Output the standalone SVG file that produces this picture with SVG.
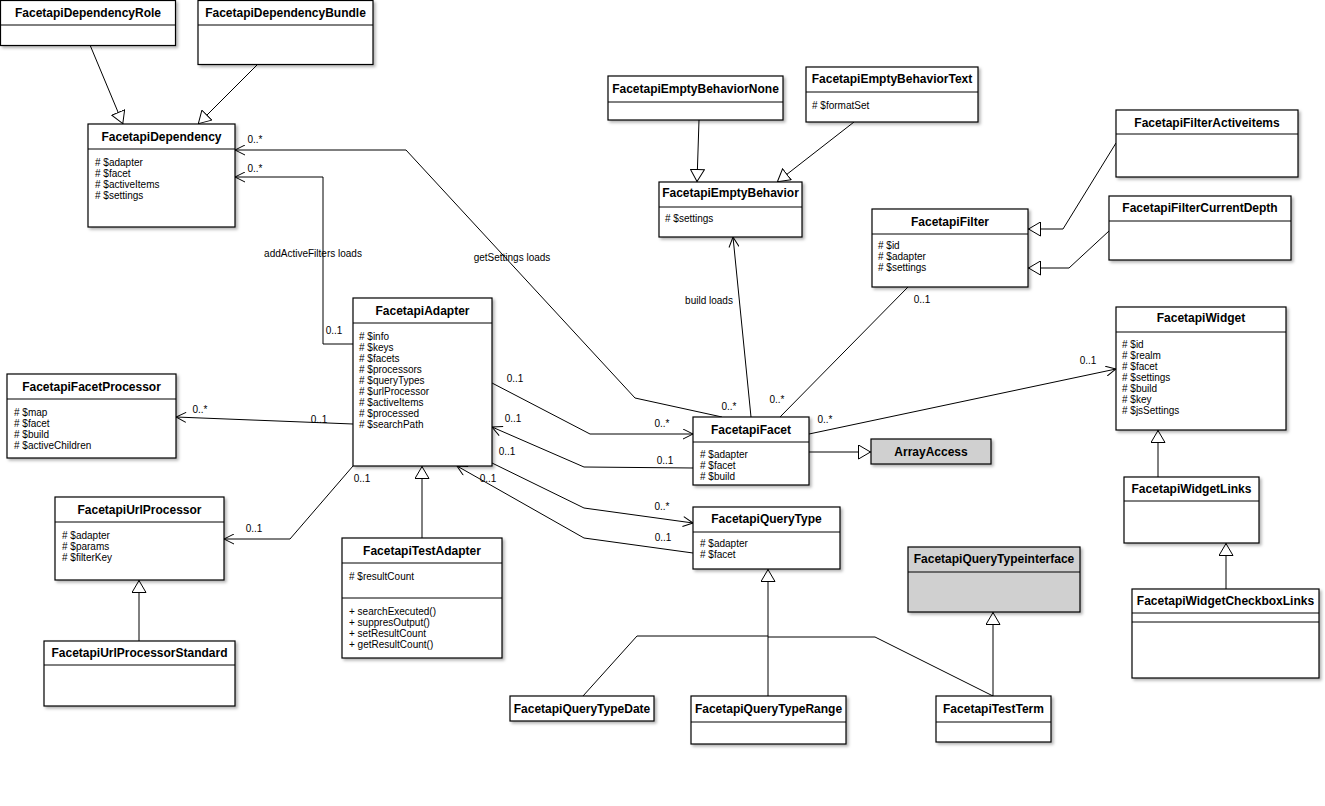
<svg xmlns="http://www.w3.org/2000/svg" width="1325" height="806" viewBox="0 0 1325 806">
<style>
.box{fill:#fff;stroke:#000;stroke-width:1.2;filter:url(#sh)}
.gray{fill:#d0d0d0}
.sep{stroke:#000;stroke-width:1}
.title{font-family:"Liberation Sans",Arial,sans-serif;font-size:12px;font-weight:bold;text-anchor:middle;fill:#000}
.attr{font-family:"Liberation Sans",Arial,sans-serif;font-size:10px;fill:#000}
.lbl{font-family:"Liberation Sans",Arial,sans-serif;font-size:10px;fill:#000;text-anchor:middle}
.conn{fill:none;stroke:#000;stroke-width:1}
.gen{marker-end:url(#tri)}
.asc{marker-end:url(#arr)}
</style>
<defs>
<filter id="sh" x="-10%" y="-10%" width="130%" height="140%">
<feDropShadow dx="2" dy="2" stdDeviation="1.5" flood-color="#000" flood-opacity="0.3"/>
</filter>
<marker id="tri" viewBox="0 0 13 15" refX="13" refY="7.5" markerWidth="13" markerHeight="15" markerUnits="userSpaceOnUse" orient="auto">
<path d="M0.5,0.5 L12.5,7.5 L0.5,14.5 Z" fill="#fff" stroke="#000" stroke-width="1"/>
</marker>
<marker id="arr" viewBox="0 0 11 11" refX="10.5" refY="5.5" markerWidth="11" markerHeight="11" markerUnits="userSpaceOnUse" orient="auto">
<path d="M0.5,0.5 L10.5,5.5 L0.5,10.5" fill="none" stroke="#000" stroke-width="1"/>
</marker>
</defs>

<g id="connectors">
<path class="conn gen" d="M90,45 L123,124"/>
<path class="conn gen" d="M258,64 L198,124"/>
<path class="conn asc" d="M722,417 L635,398 L406,150 L235,150"/>
<path class="conn asc" d="M353,344 L323,344 L323,177 L235,177"/>
<path class="conn asc" d="M353,424 L176,417"/>
<path class="conn asc" d="M353,466 L290,539 L224,539"/>
<path class="conn gen" d="M422,538 L422,466"/>
<path class="conn gen" d="M139,641 L139,580"/>
<path class="conn asc" d="M492,383 L590,434 L693,434"/>
<path class="conn asc" d="M693,468 L584,467 L492,427"/>
<path class="conn asc" d="M492,463 L584,508 L693,523"/>
<path class="conn asc" d="M693,553 L584,538 L457,466"/>
<path class="conn gen" d="M809,452 L871,452"/>
<path class="conn asc" d="M751,417 L733,237"/>
<path class="conn" d="M780,417 L908,287"/>
<path class="conn asc" d="M809,434 L1116,369"/>
<path class="conn gen" d="M699,120 L697,182"/>
<path class="conn gen" d="M854,122 L777,182"/>
<path class="conn gen" d="M1116,143 L1063,229 L1028,229"/>
<path class="conn gen" d="M1109,231 L1069,268 L1028,268"/>
<path class="conn gen" d="M1158,477 L1158,430"/>
<path class="conn gen" d="M1226,589 L1226,543"/>
<path class="conn gen" d="M768,696 L768,569"/>
<path class="conn" d="M583,696 L637,636 L768,636"/>
<path class="conn" d="M993,696 L875,637 L768,637"/>
<path class="conn gen" d="M993,696 L993,612"/>
</g>

<g id="labels">
<text class="lbl" x="255" y="142.5">0..*</text>
<text class="lbl" x="255" y="171.5">0..*</text>
<text class="lbl" x="313" y="256.5">addActiveFilters loads</text>
<text class="lbl" x="334" y="333.5">0..1</text>
<text class="lbl" x="512" y="260.5">getSettings loads</text>
<text class="lbl" x="729" y="409.5">0..*</text>
<text class="lbl" x="709" y="303.5">build loads</text>
<text class="lbl" x="777" y="402.5">0..*</text>
<text class="lbl" x="922" y="302.5">0..1</text>
<text class="lbl" x="825" y="422.5">0..*</text>
<text class="lbl" x="1088" y="363.5">0..1</text>
<text class="lbl" x="515" y="381.5">0..1</text>
<text class="lbl" x="662" y="426.5">0..*</text>
<text class="lbl" x="513" y="421.5">0..1</text>
<text class="lbl" x="665" y="463.5">0..1</text>
<text class="lbl" x="507" y="454.5">0..1</text>
<text class="lbl" x="488" y="481.5">0..1</text>
<text class="lbl" x="662" y="509.5">0..*</text>
<text class="lbl" x="663" y="540.5">0..1</text>
<text class="lbl" x="200" y="412.5">0..*</text>
<text class="lbl" x="319" y="422.5">0..1</text>
<text class="lbl" x="362" y="481.5">0..1</text>
<text class="lbl" x="254" y="531.5">0..1</text>
</g>

<g id="FacetapiDependencyRole">
<rect class="box" x="0.5" y="0.5" width="175" height="45"/>
<line class="sep" x1="0.5" y1="25" x2="175.5" y2="25"/>
<text class="title" x="88" y="17">FacetapiDependencyRole</text>
</g>
<g id="FacetapiDependencyBundle">
<rect class="box" x="198" y="0.5" width="175" height="64"/>
<line class="sep" x1="198" y1="25" x2="373" y2="25"/>
<text class="title" x="285.5" y="17">FacetapiDependencyBundle</text>
</g>
<g id="FacetapiDependency">
<rect class="box" x="88" y="124" width="147" height="103"/>
<line class="sep" x1="88" y1="149" x2="235" y2="149"/>
<text class="title" x="161.5" y="141">FacetapiDependency</text>
<text class="attr" x="95" y="165.5"># $adapter</text>
<text class="attr" x="95" y="176.5"># $facet</text>
<text class="attr" x="95" y="187.5"># $activeItems</text>
<text class="attr" x="95" y="198.5"># $settings</text>
</g>
<g id="FacetapiAdapter">
<rect class="box" x="353" y="298" width="139" height="168"/>
<line class="sep" x1="353" y1="323" x2="492" y2="323"/>
<text class="title" x="422.5" y="315">FacetapiAdapter</text>
<text class="attr" x="359" y="339.5"># $info</text>
<text class="attr" x="359" y="350.5"># $keys</text>
<text class="attr" x="359" y="361.5"># $facets</text>
<text class="attr" x="359" y="372.5"># $processors</text>
<text class="attr" x="359" y="383.5"># $queryTypes</text>
<text class="attr" x="359" y="394.5"># $urlProcessor</text>
<text class="attr" x="359" y="405.5"># $activeItems</text>
<text class="attr" x="359" y="416.5"># $processed</text>
<text class="attr" x="359" y="427.5"># $searchPath</text>
</g>
<g id="FacetapiFacetProcessor">
<rect class="box" x="7" y="374" width="169" height="84"/>
<line class="sep" x1="7" y1="399" x2="176" y2="399"/>
<text class="title" x="91.5" y="391">FacetapiFacetProcessor</text>
<text class="attr" x="14" y="415.5"># $map</text>
<text class="attr" x="14" y="426.5"># $facet</text>
<text class="attr" x="14" y="437.5"># $build</text>
<text class="attr" x="14" y="448.5"># $activeChildren</text>
</g>
<g id="FacetapiUrlProcessor">
<rect class="box" x="55" y="497" width="169" height="83"/>
<line class="sep" x1="55" y1="522" x2="224" y2="522"/>
<text class="title" x="139.5" y="514">FacetapiUrlProcessor</text>
<text class="attr" x="62" y="538.5"># $adapter</text>
<text class="attr" x="62" y="549.5"># $params</text>
<text class="attr" x="62" y="560.5"># $filterKey</text>
</g>
<g id="FacetapiUrlProcessorStandard">
<rect class="box" x="44" y="641" width="191" height="65"/>
<line class="sep" x1="44" y1="665" x2="235" y2="665"/>
<text class="title" x="139.5" y="657">FacetapiUrlProcessorStandard</text>
</g>
<g id="FacetapiTestAdapter">
<rect class="box" x="342" y="538" width="160" height="120"/>
<line class="sep" x1="342" y1="563" x2="502" y2="563"/>
<line class="sep" x1="342" y1="598" x2="502" y2="598"/>
<text class="title" x="422" y="555">FacetapiTestAdapter</text>
<text class="attr" x="349" y="579.5"># $resultCount</text>
<text class="attr" x="349" y="614.5">+ searchExecuted()</text>
<text class="attr" x="349" y="625.5">+ suppresOutput()</text>
<text class="attr" x="349" y="636.5">+ setResultCount</text>
<text class="attr" x="349" y="647.5">+ getResultCount()</text>
</g>
<g id="FacetapiFacet">
<rect class="box" x="693" y="417" width="116" height="68"/>
<line class="sep" x1="693" y1="442" x2="809" y2="442"/>
<text class="title" x="751" y="434">FacetapiFacet</text>
<text class="attr" x="700" y="457.5"># $adapter</text>
<text class="attr" x="700" y="468.5"># $facet</text>
<text class="attr" x="700" y="479.5"># $build</text>
</g>
<g id="ArrayAccess">
<rect class="box gray" x="871" y="439" width="120" height="25"/>
<text class="title" x="931" y="456">ArrayAccess</text>
</g>
<g id="FacetapiQueryType">
<rect class="box" x="693" y="507" width="147" height="62"/>
<line class="sep" x1="693" y1="532" x2="840" y2="532"/>
<text class="title" x="766.5" y="523">FacetapiQueryType</text>
<text class="attr" x="700" y="546.5"># $adapter</text>
<text class="attr" x="700" y="557.5"># $facet</text>
</g>
<g id="FacetapiQueryTypeinterface">
<rect class="box gray" x="908" y="547" width="172" height="65"/>
<line class="sep" x1="908" y1="572" x2="1080" y2="572"/>
<text class="title" x="994" y="563">FacetapiQueryTypeinterface</text>
</g>
<g id="FacetapiQueryTypeDate">
<rect class="box" x="510" y="696" width="144" height="25"/>
<text class="title" x="582" y="713">FacetapiQueryTypeDate</text>
</g>
<g id="FacetapiQueryTypeRange">
<rect class="box" x="691" y="696" width="155" height="48"/>
<line class="sep" x1="691" y1="722" x2="846" y2="722"/>
<text class="title" x="768.5" y="713">FacetapiQueryTypeRange</text>
</g>
<g id="FacetapiTestTerm">
<rect class="box" x="936" y="696" width="115" height="46"/>
<line class="sep" x1="936" y1="722" x2="1051" y2="722"/>
<text class="title" x="993.5" y="713">FacetapiTestTerm</text>
</g>
<g id="FacetapiEmptyBehaviorNone">
<rect class="box" x="608" y="76" width="175" height="44"/>
<line class="sep" x1="608" y1="102" x2="783" y2="102"/>
<text class="title" x="695.5" y="93">FacetapiEmptyBehaviorNone</text>
</g>
<g id="FacetapiEmptyBehaviorText">
<rect class="box" x="806" y="67" width="172" height="55"/>
<line class="sep" x1="806" y1="92" x2="978" y2="92"/>
<text class="title" x="892" y="83">FacetapiEmptyBehaviorText</text>
<text class="attr" x="812" y="108.5"># $formatSet</text>
</g>
<g id="FacetapiEmptyBehavior">
<rect class="box" x="659" y="182" width="143" height="55"/>
<line class="sep" x1="659" y1="207" x2="802" y2="207"/>
<text class="title" x="730.5" y="197">FacetapiEmptyBehavior</text>
<text class="attr" x="665" y="221.5"># $settings</text>
</g>
<g id="FacetapiFilter">
<rect class="box" x="872" y="209" width="156" height="78"/>
<line class="sep" x1="872" y1="234" x2="1028" y2="234"/>
<text class="title" x="950" y="226">FacetapiFilter</text>
<text class="attr" x="878" y="248.5"># $id</text>
<text class="attr" x="878" y="259.5"># $adapter</text>
<text class="attr" x="878" y="270.5"># $settings</text>
</g>
<g id="FacetapiFilterActiveitems">
<rect class="box" x="1116" y="110" width="182" height="67"/>
<line class="sep" x1="1116" y1="134" x2="1298" y2="134"/>
<text class="title" x="1207" y="127">FacetapiFilterActiveitems</text>
</g>
<g id="FacetapiFilterCurrentDepth">
<rect class="box" x="1109" y="196" width="182" height="64"/>
<line class="sep" x1="1109" y1="221" x2="1291" y2="221"/>
<text class="title" x="1200" y="212">FacetapiFilterCurrentDepth</text>
</g>
<g id="FacetapiWidget">
<rect class="box" x="1116" y="307" width="170" height="123"/>
<line class="sep" x1="1116" y1="332" x2="1286" y2="332"/>
<text class="title" x="1201" y="322">FacetapiWidget</text>
<text class="attr" x="1122" y="347.5"># $id</text>
<text class="attr" x="1122" y="358.5"># $realm</text>
<text class="attr" x="1122" y="369.5"># $facet</text>
<text class="attr" x="1122" y="380.5"># $settings</text>
<text class="attr" x="1122" y="391.5"># $build</text>
<text class="attr" x="1122" y="402.5"># $key</text>
<text class="attr" x="1122" y="413.5"># $jsSettings</text>
</g>
<g id="FacetapiWidgetLinks">
<rect class="box" x="1124" y="477" width="135" height="66"/>
<line class="sep" x1="1124" y1="501" x2="1259" y2="501"/>
<text class="title" x="1191.5" y="493">FacetapiWidgetLinks</text>
</g>
<g id="FacetapiWidgetCheckboxLinks">
<rect class="box" x="1132" y="589" width="187" height="89"/>
<line class="sep" x1="1132" y1="613" x2="1319" y2="613"/>
<line class="sep" x1="1132" y1="622" x2="1319" y2="622"/>
<text class="title" x="1225.5" y="605">FacetapiWidgetCheckboxLinks</text>
</g>
</svg>
